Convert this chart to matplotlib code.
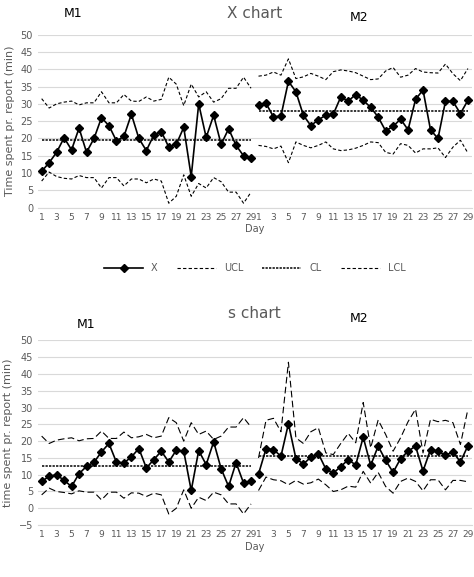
import numpy as np
import matplotlib.pyplot as plt

days = list(range(1, 30))

# X chart
x_m1 = [10.5, 13, 16, 20.2, 16.7, 23, 16, 20, 26, 23.7, 19.3, 20.6, 27, 20, 16.5, 21, 22, 17.5, 18.3, 23.2, 9, 30, 20.3, 26.7, 18.3, 22.8, 18, 15, 14.5]
x_ucl_m1 = [31.5, 28.8, 30, 30.5, 30.8, 29.7, 30.3, 30.3, 33.5, 30.3, 30.3, 32.7, 30.8, 30.7, 32, 30.8, 31.3, 37.7, 35.7, 29.5, 35.7, 32, 33.5, 30.5, 31.5, 34.5, 34.5, 37.7, 34.5]
x_lcl_m1 = [7.7, 10.3, 9, 8.5, 8.3, 9.3, 8.7, 8.7, 5.7, 8.7, 8.7, 6.3, 8.3, 8.3, 7.2, 8.3, 7.7, 1.3, 3.3, 9.5, 3.3, 7, 5.7, 8.7, 7.5, 4.5, 4.5, 1.3, 4.5]
x_cl_m1 = 19.5
x_m2 = [29.8, 30.2, 26.2, 26.5, 36.5, 33.5, 26.7, 23.7, 25.4, 26.7, 27, 32, 30.8, 32.7, 31, 29, 26.2, 22.2, 23.5, 25.6, 22.5, 31.3, 34, 22.5, 20, 30.7, 30.7, 27.2, 31]
x_ucl_m2 = [38, 38.3, 39.2, 38.3, 43, 37.3, 37.8, 38.8, 38, 37, 39.3, 39.8, 39.5, 39, 38, 37, 37.2, 39.5, 40.5, 37.7, 38.3, 40.2, 39.2, 39, 38.9, 41.5, 38.7, 36.7, 40.2]
x_lcl_m2 = [18, 17.7, 17, 17.8, 13, 19, 18, 17.3, 18, 19, 17, 16.5, 16.7, 17.2, 18, 19, 18.8, 16, 15.5, 18.5, 18, 15.8, 17, 17, 17.3, 14.5, 17.5, 19.5, 15.8]
x_cl_m2 = 28

# s chart
s_m1 = [8, 9.5, 10, 8.3, 6.5, 10.3, 12.5, 13.7, 16.8, 19.3, 13.7, 13.5, 15.3, 17.8, 12, 14.5, 17, 13.8, 17.3, 17, 5.3, 17.2, 13, 19.8, 11.8, 6.5, 13.6, 7.5, 8]
s_ucl_m1 = [21.5, 19.3, 20.3, 20.7, 21, 20.1, 20.7, 20.8, 23, 20.8, 20.8, 22.7, 21, 21.3, 22, 21, 21.5, 27, 25.5, 20, 25.5, 22, 23, 20.5, 21.5, 24.2, 24.2, 27, 24.2]
s_lcl_m1 = [4, 6, 5, 4.7, 4.3, 5.2, 4.8, 4.8, 2.5, 4.8, 4.8, 3, 4.6, 4.5, 3.5, 4.5, 4, -1.7, 0, 5.5, 0, 3.3, 2.3, 4.8, 4, 1.3, 1.3, -1.7, 1.3]
s_cl_m1 = 12.7
s_m2 = [10.2, 17.7, 17.5, 15.5, 25.2, 14.8, 13.2, 15.2, 16.3, 11.7, 10.5, 12.4, 14.5, 12.9, 21.2, 12.8, 18.5, 14.3, 10.7, 14.8, 17, 18.5, 11.1, 17.5, 17, 15.8, 16.8, 13.8, 18.6]
s_ucl_m2 = [15, 26.2, 26.8, 22.8, 43.5, 21, 19.3, 22.8, 24, 16.5, 16, 19.3, 22.3, 19.5, 31.5, 18, 26.3, 22, 17, 21, 25.8, 29.5, 16.5, 26.5, 25.8, 26.2, 25.5, 19, 29.5]
s_lcl_m2 = [5.3, 9.3, 8.5, 8.2, 7, 8.3, 7.2, 7.6, 8.7, 7, 5, 5.5, 6.6, 6.3, 11, 7.5, 10.7, 6.5, 4.5, 8, 9, 8, 5.2, 8.5, 8.5, 5.5, 8.3, 8.3, 7.9]
s_cl_m2 = 15.5

plt.rcParams.update({"font.family": "DejaVu Sans", "font.size": 7})
grey = "#595959"

fig = plt.figure(figsize=(4.74, 5.77), dpi=100)
ax1 = fig.add_axes([0.08, 0.64, 0.915, 0.30])
ax2 = fig.add_axes([0.08, 0.09, 0.915, 0.32])

xa = np.arange(29)
xb = np.arange(29) + 29


def draw(ax, v1, u1, l1, c1, v2, u2, l2, c2, lab, dash):
    ax.plot(xa, v1, color="black", marker="D", ms=4, lw=1.2, label=lab)
    ax.plot(xb, v2, color="black", marker="D", ms=4, lw=1.2)
    ax.plot(xa, u1, color="black", lw=0.8, dashes=dash, label="UCL")
    ax.plot(xb, u2, color="black", lw=0.8, dashes=dash)
    ax.plot(xa, [c1] * 29, color="black", lw=1.1, dashes=(1.5, 0.8), label="CL")
    ax.plot(xb, [c2] * 29, color="black", lw=1.1, dashes=(1.5, 0.8))
    ax.plot(xa, l1, color="black", lw=0.8, dashes=dash, label="LCL")
    ax.plot(xb, l2, color="black", lw=0.8, dashes=dash)
    ax.set_xlim(-0.5, 57.5)
    ticks = list(range(0, 29, 2)) + list(range(29, 58, 2))
    ax.set_xticks(ticks)
    ax.set_xticklabels([str(days[t % 29]) for t in ticks], color=grey, fontsize=6.5)
    ax.tick_params(length=0, labelcolor=grey)
    ax.grid(axis="y", color="#d9d9d9", lw=0.8)
    ax.set_axisbelow(True)
    for s in ["top", "right", "left"]:
        ax.spines[s].set_visible(False)
    ax.spines["bottom"].set_color("#d9d9d9")
    ax.set_xlabel("Day", color=grey, labelpad=2)
    ax.legend(loc="upper center", bbox_to_anchor=(0.5, -0.27), ncol=4,
              frameon=False, labelcolor=grey, handlelength=4)


draw(ax1, x_m1, x_ucl_m1, x_lcl_m1, x_cl_m1, x_m2, x_ucl_m2, x_lcl_m2, x_cl_m2, "X", (3, 2))
ax1.set_ylim(0, 50)
ax1.set_yticks(range(0, 51, 5))
ax1.set_ylabel("Time spent pr. report (min)", color=grey, fontsize=8)
ax1.set_title("X chart", color=grey, fontsize=11, pad=12)
ax1.text(0.06, 1.1, "M1", transform=ax1.transAxes, fontsize=9)
ax1.text(0.72, 1.08, "M2", transform=ax1.transAxes, fontsize=9)

draw(ax2, s_m1, s_ucl_m1, s_lcl_m1, s_cl_m1, s_m2, s_ucl_m2, s_lcl_m2, s_cl_m2, "sd", (6, 3))
ax2.set_ylim(-5, 50)
ax2.set_yticks(range(-5, 51, 5))
ax2.set_ylabel("time spent pr. report (min)", color=grey, fontsize=8)
ax2.set_title("s chart", color=grey, fontsize=11, pad=16)
ax2.text(0.09, 1.07, "M1", transform=ax2.transAxes, fontsize=9)
ax2.text(0.72, 1.1, "M2", transform=ax2.transAxes, fontsize=9)

fig.savefig("out.png", dpi=100)
